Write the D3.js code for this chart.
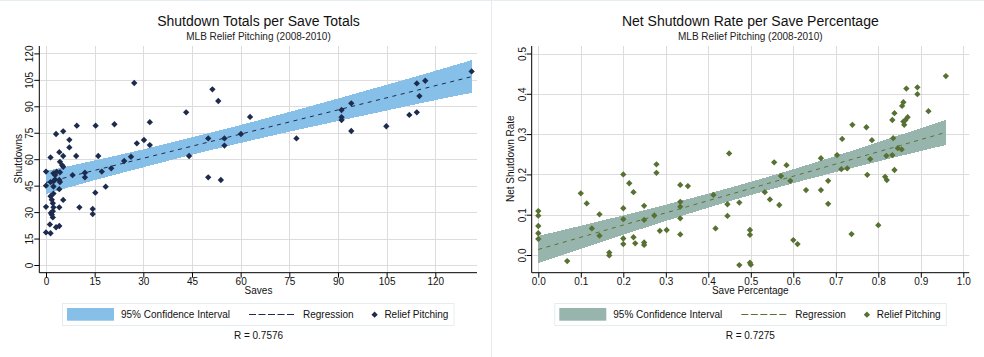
<!DOCTYPE html>
<html><head><meta charset="utf-8">
<script src="https://cdn.jsdelivr.net/npm/d3@7"></script>
<style>body{margin:0;background:#fff}svg{display:block;font-family:Arial,"Liberation Sans",sans-serif}</style>
</head><body><svg id="c" width="984" height="357"></svg>
<script>
// ---------- data ----------
const leftSaves = [0,0,0,0,1.4,1.2,1.4,1.5,2.1,1.8,2.1,2.1,1.8,1.4,2.3,2.3,2.3,2.8,2.3,2.8,1.4,3.3,
  3.1,5.3,7.2,7.2,4.1,5.3,4.3,5,5.3,4.3,4.1,4.3,4.1,5.3,4.1,2.3,4.1,3.1,
  8.2,9.3,9.5,15.3,16.1,17.2,20.1,15.2,18.4,10.3,14.4,14.4,12,12,
  21.1,28,30.2,32,32,26.2,24.1,27.2,44.1,43.2,50,50,53.9,55,55,53.1,51.3,60.1,62.9,
  77.2,91.1,91.1,91.1,94.1,94.1,104.9,112,114.3,115.1,114.3,116.9,131.2];
const leftShutdowns = [53,45,33,18.5,18,23,61,29.5,27,28.5,30.5,35,37,39,40.5,44.5,47.5,48.5,52,51,47,53,
  74.3,75.8,71,66.7,64,61.8,58.5,56.5,55.7,52.6,48.2,47,43,36.9,32.7,32.7,22.1,21.4,
  51,61.8,79,79,61.8,53,54.8,41,44.4,32.7,31.8,28.9,52.3,49.7,
  79.8,69,70.9,68,81,61.4,59,103.2,61.8,86.6,71.8,49.7,48.2,71.8,67.7,93,99.6,74.3,84,
  71.8,87.9,83.8,82.2,91.7,76,78.7,85.1,86.6,95.8,103,104.5,109.8];
const leftXTicks = [0,15,30,45,60,75,90,105,120];
const leftYTicks = [0,15,30,45,60,75,90,105,120];
// regression line and 95% band of the left panel
const leftFitSaves = [0,131.2];
const leftFitShutdowns = [46.8,106.8];
const leftBandSaves = [0,15,30,45,60,75,90,105,120,131.2];
const leftBandLow  = [40.3,48.1,55.4,62.5,69.2,75.6,81.6,87.6,93.5,97.6];
const leftBandHigh = [53.3,59.3,65.6,72.4,79.4,86.8,94.4,102.2,110.1,116.2];

const rightSavePct = [0,0,0,0,0,0.068,0.1,0.114,0.126,0.144,0.144,0.167,0.167,
  0.2,0.2,0.2,0.2,0.2,0.214,0.224,0.224,0.228,0.249,0.249,0.249,0.249,0.273,0.278,0.278,0.286,0.302,
  0.334,0.334,0.334,0.334,0.334,0.352,0.412,0.417,0.445,0.445,0.449,0.473,0.473,
  0.498,0.498,0.498,0.5,0.533,0.545,0.555,0.567,0.571,0.584,0.593,0.6,0.61,
  0.63,0.665,0.665,0.682,0.682,0.703,0.713,0.715,0.727,0.737,0.739,
  0.772,0.774,0.781,0.785,0.8,0.816,0.82,0.819,0.833,0.835,0.838,0.833,0.838,
  0.846,0.855,0.856,0.859,0.859,0.861,0.864,0.869,0.866,0.892,0.892,0.918,0.959];
const rightNetRate = [0.109,0.0975,0.072,0.054,0.040,-0.015,0.153,0.128,0.066,0.101,0.048,0.006,-0.001,
  0.2,0.116,0.089,0.041,0.027,0.178,0.156,0.044,0.029,0.122,0.087,0.031,0.025,0.098,0.225,0.204,0.06,0.062,
  0.174,0.132,0.12,0.091,0.051,0.171,0.149,0.066,0.126,0.097,0.252,0.13,-0.025,
  0.062,0.05,-0.019,-0.024,0.156,0.138,0.23,0.124,0.196,0.223,0.184,0.037,0.027,
  0.161,0.24,0.161,0.184,0.127,0.248,0.213,0.288,0.215,0.052,0.323,
  0.317,0.199,0.238,0.285,0.074,0.194,0.186,0.246,0.248,0.29,0.211,0.335,0.352,
  0.265,0.262,0.37,0.379,0.331,0.323,0.335,0.342,0.413,0.416,0.399,0.357,0.444];
const rightXTicks = [0,0.1,0.2,0.3,0.4,0.5,0.6,0.7,0.8,0.9,1.0];
const rightYTicks = [0,0.1,0.2,0.3,0.4,0.5];

const titles = ["Shutdown Totals per Save Totals","Net Shutdown Rate per Save Percentage"];
const subtitles = ["MLB Relief Pitching (2008-2010)","MLB Relief Pitching (2008-2010)"];
const xLabels = ["Saves","Save Percentage"];
const yLabels = ["Shutdowns","Net Shutdown Rate"];
const rTexts = ["R = 0.7576","R = 0.7275"];
const legendLabels = ["95% Confidence Interval","Regression","Relief Pitching"];

// ---------- layout ----------
const panels = [
  {xs:leftSaves, ys:leftShutdowns, xt:leftXTicks, yt:leftYTicks, fmt:d3.format("d"),
   fit:{x:leftFitSaves, y:leftFitShutdowns}, band:{x:leftBandSaves, lo:leftBandLow, hi:leftBandHigh},
   axisX:39.3, axisY:272.7, top:46, right:477, xDom:[0,120], xRange:[46,435.3], yDom:[0,120], yRange:[265,53.4],
   cx:258.5, legX:62, bandCol:"#86bfe8", mark:"#1d2b4e", line:"#1d2b4e"},
  {xs:rightSavePct, ys:rightNetRate, xt:rightXTicks, yt:rightYTicks, fmt:d3.format(".1f"),
   fit:null, band:null,
   axisX:531.7, axisY:272.7, top:46, right:969.3, xDom:[0,1], xRange:[538.3,963.3], yDom:[0,0.5], yRange:[255,53.5],
   cx:750.3, legX:554.3, bandCol:"#98b5ad", mark:"#567131", line:"#567131"}
];

const svg = d3.select("#c");
svg.append("line").attr("x1",0).attr("x2",984).attr("y1",0.5).attr("y2",0.5).attr("stroke","#e4eef0");
svg.append("line").attr("x1",491.5).attr("x2",491.5).attr("y1",0).attr("y2",357).attr("stroke","#e4eef0");

function tq(df){ const z=1.959964; return z+(z*z*z+z)/(4*df)+(5*z**5+16*z**3+3*z)/(96*df*df); }
const diamond = d3.symbol(d3.symbolSquare, 20);

panels.forEach((p,i)=>{
  const g = svg.append("g");
  const x = d3.scaleLinear().domain(p.xDom).range(p.xRange);
  const y = d3.scaleLinear().domain(p.yDom).range(p.yRange);
  g.append("g").selectAll("line").data(p.yt).join("line")
    .attr("x1",p.axisX+1).attr("x2",p.right).attr("y1",d=>Math.round(y(d))+0.5).attr("y2",d=>Math.round(y(d))+0.5)
    .attr("stroke","#dcdcdc");
  g.append("g").selectAll("line").data(p.xt).join("line")
    .attr("y1",p.top).attr("y2",p.axisY-1).attr("x1",d=>Math.round(x(d))+0.5).attr("x2",d=>Math.round(x(d))+0.5)
    .attr("stroke","#dcdcdc");

  let bandData, lineData;
  if (p.band) {
    bandData = p.band.x.map((v,k)=>({v, lo:p.band.lo[k], hi:p.band.hi[k]}));
    lineData = p.fit.x.map((v,k)=>({v, yh:p.fit.y[k]}));
  } else {
    // least-squares fit and 95% CI of the mean, from the plotted points
    const n=p.xs.length, mx=d3.mean(p.xs), my=d3.mean(p.ys);
    let sxx=0,sxy=0; p.xs.forEach((v,k)=>{sxx+=(v-mx)**2; sxy+=(v-mx)*(p.ys[k]-my);});
    const b=sxy/sxx, a=my-b*mx;
    let sse=0; p.xs.forEach((v,k)=>{sse+=(p.ys[k]-a-b*v)**2;});
    const s=Math.sqrt(sse/(n-2)), t=tq(n-2);
    const [x0,x1]=d3.extent(p.xs);
    bandData=d3.range(100).map(k=>{const v=x0+(x1-x0)*k/99; const se=s*Math.sqrt(1/n+(v-mx)**2/sxx); const yh=a+b*v; return {v,yh,lo:yh-t*se,hi:yh+t*se};});
    lineData=bandData;
  }
  g.append("path").datum(bandData).attr("fill",p.bandCol).attr("shape-rendering","crispEdges")
    .attr("d",d3.area().curve(d3.curveMonotoneX).x(d=>x(d.v)).y0(d=>y(d.lo)).y1(d=>y(d.hi)));
  g.append("path").datum(lineData).attr("fill","none").attr("stroke",p.line).attr("stroke-width",1)
    .attr("stroke-dasharray","4,4.5").attr("d",d3.line().x(d=>x(d.v)).y(d=>y(d.yh)));

  g.append("g").selectAll("path").data(p.xs.map((v,k)=>[v,p.ys[k]])).join("path")
    .attr("d",diamond).attr("fill",p.mark)
    .attr("transform",d=>`translate(${x(d[0])},${y(d[1])}) rotate(45)`);

  const ya=g.append("g").attr("transform",`translate(${p.axisX},0)`)
    .call(d3.axisLeft(y).tickValues(p.yt).tickFormat(p.fmt).tickSize(5));
  ya.select(".domain").remove();
  ya.selectAll("line").attr("stroke","#000");
  ya.selectAll("text").attr("x",null).attr("dy",null).attr("text-anchor","middle")
    .attr("transform","translate(-6,0) rotate(-90)").attr("font-size",10).attr("fill","#111").attr("font-family","Arial, 'Liberation Sans', sans-serif");
  const xa=g.append("g").attr("transform",`translate(0,${p.axisY})`)
    .call(d3.axisBottom(x).tickValues(p.xt).tickFormat(p.fmt).tickSize(5));
  xa.select(".domain").remove();
  xa.selectAll("line").attr("stroke","#000");
  xa.selectAll("text").attr("y",12.8).attr("dy",null).attr("font-size",10).attr("fill","#111").attr("font-family","Arial, 'Liberation Sans', sans-serif");
  g.append("line").attr("x1",p.axisX).attr("x2",p.axisX).attr("y1",p.top).attr("y2",p.axisY).attr("stroke","#000");
  g.append("line").attr("x1",p.axisX).attr("x2",p.right).attr("y1",p.axisY).attr("y2",p.axisY).attr("stroke","#000");

  g.append("text").attr("x",p.cx).attr("y",26).attr("text-anchor","middle").attr("font-size",14).attr("fill","#111").text(titles[i]);
  g.append("text").attr("x",p.cx).attr("y",39.5).attr("text-anchor","middle").attr("font-size",10).attr("fill","#222").text(subtitles[i]);
  g.append("text").attr("x",p.cx).attr("y",294).attr("text-anchor","middle").attr("font-size",10).attr("fill","#111").text(xLabels[i]);
  g.append("text").attr("transform",`translate(${p.axisX-17.6},158.7) rotate(-90)`).attr("text-anchor","middle").attr("font-size",10).attr("fill","#111").text(yLabels[i]);
  g.append("text").attr("x",p.cx).attr("y",339).attr("text-anchor","middle").attr("font-size",10).attr("fill","#111").text(rTexts[i]);

  const L=g.append("g").attr("transform",`translate(${p.legX},303)`);
  L.append("rect").attr("x",0.5).attr("y",0.5).attr("width",391.5).attr("height",22).attr("fill","#fff").attr("stroke","#e4eef0");
  L.append("rect").attr("x",5).attr("y",5).attr("width",47).attr("height",12.7).attr("fill",p.bandCol);
  L.append("text").attr("x",59).attr("y",15.3).attr("font-size",10).attr("fill","#111").text(legendLabels[0]);
  L.append("line").attr("x1",187).attr("x2",233).attr("y1",11.5).attr("y2",11.5).attr("stroke",p.line).attr("stroke-dasharray","7,2.5");
  L.append("text").attr("x",241).attr("y",15.3).attr("font-size",10).attr("fill","#111").text(legendLabels[1]);
  L.append("path").attr("d",diamond).attr("fill",p.mark).attr("transform","translate(312.6,11.7) rotate(45)");
  L.append("text").attr("x",322.4).attr("y",15.3).attr("font-size",10).attr("fill","#111").text(legendLabels[2]);
});
</script></body></html>
